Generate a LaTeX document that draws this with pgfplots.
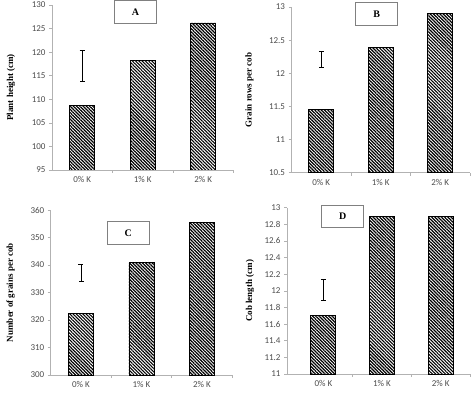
\documentclass[border=0pt]{standalone}
\usepackage{pgfplots}
\pgfplotsset{compat=1.18}
\usepackage{fontspec}
\setmainfont{Liberation Serif}
\newfontfamily\tickfont{Carlito}
\usetikzlibrary{patterns.meta}
\pgfplotsset{
  panel/.style={
    scale only axis,
    axis x line*=bottom, axis y line*=left,
    axis line style={black!30, line width=0.6pt},
    xmin=-0.5, xmax=2.5,
    xtick={0,1,2}, xticklabels={0\% K,1\% K,2\% K},
    minor xtick={0.5,1.5,2.5},
    major x tick style={draw=none},
    minor x tick style={black!30, line width=0.6pt},
    minor tick length=3pt,
    y tick style={black!30, line width=0.6pt},
    major tick length=3pt,
    tick align=outside,
    tick label style={font=\tickfont\fontsize{9}{10}\selectfont, text=black!70},
    /pgf/number format/assume math mode=true,
    clip mode=individual,
    ylabel style={font=\bfseries\fontsize{9}{10}\selectfont, at={(axis description cs:0,0.5)}, anchor=center},
  },
  bars/.style={ybar, bar width=25pt, draw=black, line width=0.8pt,
    pattern={Lines[angle=-45, distance=2.3pt, line width=1.2pt]}, pattern color=black},
  errb/.style={draw=none, mark=none, forget plot,
    error bars/.cd, y dir=both, y explicit,
    error bar style={draw=black, solid, line width=0.8pt},
    error mark options={draw=black, rotate=90, mark size=2.5pt, line width=0.8pt}},
}
\tikzset{
  lbl/.style={draw=black!50, fill=white, line width=0.6pt, minimum width=42pt, minimum height=22.7pt, font=\bfseries\fontsize{10}{11}\selectfont, inner sep=0pt},
}
\begin{document}
\begin{tikzpicture}
\useasboundingbox (0,0) rectangle (474pt,397pt);
% A
\begin{axis}[panel, at={(52pt,227pt)}, anchor=south west, width=181.5pt, height=165pt,
  ymin=95, ymax=130, ytick={95,100,...,130},
  ylabel={Plant height (cm)}, ylabel style={yshift=41pt}]
\addplot[bars] coordinates {(0,108.6) (1,118.3) (2,126.2)};
\addplot[errb] coordinates {(0,117.05) +- (0,3.35)};
\node[lbl] at (axis cs:0.88,128.5) {A};
\end{axis}
% B
\begin{axis}[panel, at={(291.5pt,224.3pt)}, anchor=south west, width=178.5pt, height=165.7pt,
  ymin=10.5, ymax=13, ytick={10.5,11,...,13},
  ylabel={Grain rows per cob}, ylabel style={yshift=42pt}]
\addplot[bars] coordinates {(0,11.45) (1,12.39) (2,12.9)};
\addplot[errb] coordinates {(0,12.205) +- (0,0.12)};
\node[lbl] at (axis cs:0.93,12.894) {B};
\end{axis}
% C
\begin{axis}[panel, at={(50.75pt,22pt)}, anchor=south west, width=181.5pt, height=165pt,
  ymin=300, ymax=360, ytick={300,310,...,360},
  ylabel={Number of grains per cob}, ylabel style={yshift=40pt}]
\addplot[bars] coordinates {(0,322.3) (1,340.8) (2,355.5)};
\addplot[errb] coordinates {(0,337.3) +- (0,3.1)};
\node[lbl] at (axis cs:0.78,351.6) {C};
\end{axis}
% D
\begin{axis}[panel, at={(287pt,23pt)}, anchor=south west, width=183pt, height=166.3pt,
  xmin=-0.62, xmax=2.5, minor xtick={0.5,1.5,2.5},
  ymin=11, ymax=13, ytick={11,11.2,...,13.01},
  yticklabel style={/pgf/number format/fixed, /pgf/number format/precision=1},
  ylabel={Cob length (cm)}, ylabel style={yshift=37pt}]
\addplot[bars] coordinates {(0,11.70) (1,12.89) (2,12.89)};
\addplot[errb] coordinates {(0,12.01) +- (0,0.13)};
\node[lbl] at (axis cs:0.33,12.897) {D};
\end{axis}
\end{tikzpicture}
\end{document}
